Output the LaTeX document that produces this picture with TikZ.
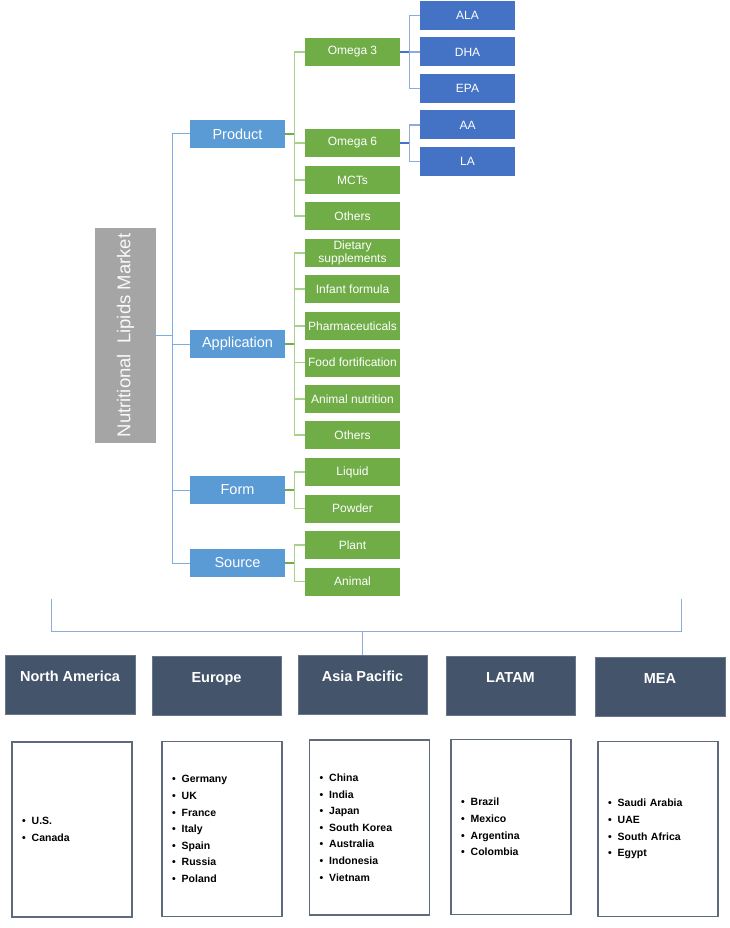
\documentclass[tikz,border=0pt]{standalone}
\usepackage{fontspec}
\setmainfont{Liberation Sans}
\definecolor{grn}{HTML}{70AD47}
\definecolor{grnl}{HTML}{A9D18E}
\definecolor{dblue}{HTML}{4472C4}
\definecolor{dbluel}{HTML}{8FAADC}
\definecolor{mblue}{HTML}{5B9BD5}
\definecolor{mbluel}{HTML}{9DC3E6}
\definecolor{ttlgray}{HTML}{A5A5A5}
\definecolor{slate}{HTML}{44546A}
\definecolor{bordgray}{HTML}{5F6B7C}
\begin{document}
\begin{tikzpicture}[x=1pt,y=-1pt,
  gbox/.style={fill=grn,text=white,minimum width=95pt,minimum height=28pt,inner sep=0pt,align=center,font=\fontsize{12}{12.5}\selectfont},
  bbox/.style={fill=dblue,text=white,minimum width=95pt,minimum height=29pt,inner sep=0pt,font=\fontsize{12}{13}\selectfont},
  catbox/.style={fill=mblue,text=white,minimum width=95pt,minimum height=28pt,inner sep=0pt,font=\fontsize{14.5}{15}\selectfont},
  regbox/.style={fill=slate,draw=slate!80!white,line width=0.6pt,text=white,minimum width=129pt,minimum height=59pt,inner sep=0pt,text height=10.5pt,text depth=16pt,font=\bfseries\fontsize{14.5}{15}\selectfont},
  listbox/.style={draw=bordgray,line width=1.2pt,fill=white,minimum width=120pt,minimum height=175pt,inner xsep=10pt,inner ysep=0pt,text width=100pt,align=left,font=\bfseries\fontsize{10.5}{16.6}\selectfont},
  mainln/.style={draw=mblue!80!white,line width=1pt},
  gdark/.style={draw=grn,line width=1.6pt},
  glight/.style={draw=grnl,line width=1.2pt},
  bdark/.style={draw=dblue,line width=1.6pt},
  blight/.style={draw=dbluel,line width=1.2pt},
  brk/.style={draw=dbluel,line width=1pt}
]
\useasboundingbox (0,0) rectangle (730,928);

% title
\node[fill=ttlgray,minimum width=61pt,minimum height=215pt,inner sep=0pt,text=white!95!gray] (title) at (125.5,335.5)
  {\rotatebox{90}{\fontsize{18.5}{19}\selectfont Nutritional\ \ Lipids Market}};

% categories
\node[catbox] (product) at (237.5,134) {Product};
\node[catbox] (application) at (237.5,344) {Application};
\node[catbox] (form) at (237.5,490) {Form};
\node[catbox] (source) at (237.5,563) {Source};

% product children
\node[gbox] (omega3) at (352.5,52) {Omega 3};
\node[gbox] (omega6) at (352.5,143) {Omega 6};
\node[gbox] (mcts) at (352.5,180) {MCTs};
\node[gbox] (othersp) at (352.5,216) {Others};

\node[bbox] (ala) at (467.5,15.5) {ALA};
\node[bbox] (dha) at (467.5,52) {DHA};
\node[bbox] (epa) at (467.5,88.5) {EPA};
\node[bbox] (aa) at (467.5,125) {AA};
\node[bbox] (la) at (467.5,161.5) {LA};

% application children
\node[gbox] (dietary) at (352.5,253) {Dietary\\supplements};
\node[gbox] (infant) at (352.5,289) {Infant formula};
\node[gbox] (pharma) at (352.5,326) {Pharmaceuticals};
\node[gbox] (food) at (352.5,362.5) {Food fortification};
\node[gbox] (animaln) at (352.5,399) {Animal nutrition};
\node[gbox] (othersa) at (352.5,435) {Others};

% form / source children
\node[gbox] (liquid) at (352.5,472) {Liquid};
\node[gbox] (powder) at (352.5,508.5) {Powder};
\node[gbox] (plant) at (352.5,545) {Plant};
\node[gbox] (animal) at (352.5,581.5) {Animal};

% trunk connectors
\draw[mainln] (title.east) -- ++(17,0);
\draw[mainln] (product.west) -- ++(-17,0) |- (source.west);
\draw[mainln] (application.west) -- ++(-17,0);
\draw[mainln] (form.west) -- ++(-17,0);

% product bracket
\draw[gdark] (product.east) -- ++(10,0);
\draw[glight] (omega3.west) -- ++(-10,0) |- (othersp.west);
\draw[glight] (omega6.west) -- ++(-10,0);
\draw[glight] (mcts.west) -- ++(-10,0);

\draw[bdark] (omega3.east) -- ++(10,0);
\draw[blight] (ala.west) -- ++(-10,0) |- (epa.west);
\draw[blight] (dha.west) -- ++(-10,0);
\draw[bdark] (omega6.east) -- ++(10,0);
\draw[blight] (aa.west) -- ++(-10,0) |- (la.west);

% application bracket
\draw[gdark] (application.east) -- ++(10,0);
\draw[glight] (dietary.west) -- ++(-10,0) |- (othersa.west);
\foreach \n in {infant,pharma,food,animaln} \draw[glight] (\n.west) -- ++(-10,0);

% form / source brackets
\draw[gdark] (form.east) -- ++(10,0);
\draw[glight] (liquid.west) -- ++(-10,0) |- (powder.west);
\draw[gdark] (source.east) -- ++(10,0);
\draw[glight] (plant.west) -- ++(-10,0) |- (animal.west);

% region headers
\node[regbox,minimum width=130pt] (na) at (70,684.5) {North America};
\node[regbox] (eu) at (216.5,685.5) {Europe};
\node[regbox] (ap) at (362.5,684.5) {Asia Pacific};
\node[regbox] (latam) at (510.5,685.5) {LATAM};
\node[regbox,minimum width=130pt] (mea) at (660,686.5) {MEA};

% bottom bracket
\coordinate (bl) at (51,599);
\coordinate (br) at (681,599);
\draw[brk] (bl) -- ++(0,32) -| (br);
\draw[brk] (ap.north) -- ++(0,-24);

% country lists
\node[listbox] (nal) at (72,829.5) {\textbullet\hspace{6pt}U.S.\\\textbullet\hspace{6pt}Canada};
\node[listbox] (eul) at (222,829) {\textbullet\hspace{6pt}Germany\\\textbullet\hspace{6pt}UK\\\textbullet\hspace{6pt}France\\\textbullet\hspace{6pt}Italy\\\textbullet\hspace{6pt}Spain\\\textbullet\hspace{6pt}Russia\\\textbullet\hspace{6pt}Poland};
\node[listbox] (apl) at (369.5,827.5) {\textbullet\hspace{6pt}China\\\textbullet\hspace{6pt}India\\\textbullet\hspace{6pt}Japan\\\textbullet\hspace{6pt}South Korea\\\textbullet\hspace{6pt}Australia\\\textbullet\hspace{6pt}Indonesia\\\textbullet\hspace{6pt}Vietnam};
\node[listbox] (latl) at (511,827) {\textbullet\hspace{6pt}Brazil\\\textbullet\hspace{6pt}Mexico\\\textbullet\hspace{6pt}Argentina\\\textbullet\hspace{6pt}Colombia};
\node[listbox] (meal) at (658,829) {\textbullet\hspace{6pt}Saudi Arabia\\\textbullet\hspace{6pt}UAE\\\textbullet\hspace{6pt}South Africa\\\textbullet\hspace{6pt}Egypt};
\end{tikzpicture}
\end{document}
